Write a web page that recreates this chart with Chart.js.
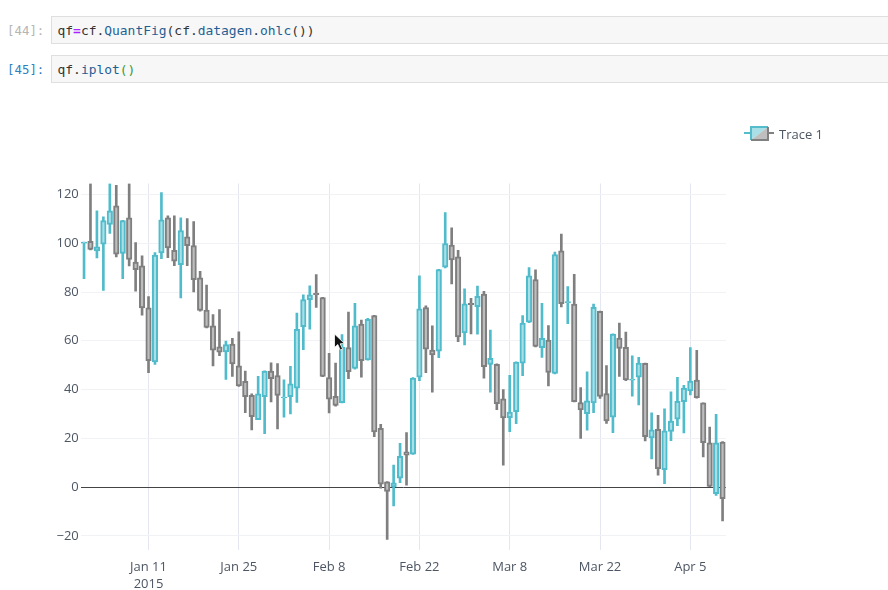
<!DOCTYPE html>
<html>
<head>
<meta charset="utf-8">
<script src="https://cdn.jsdelivr.net/npm/chart.js@4/dist/chart.umd.min.js"></script>
<style>
  html, body { margin: 0; width: 888px; height: 590px; overflow: hidden; background: #fff; }
  #page { position: relative; width: 888px; height: 590px; }
  #chart { position: absolute; left: 0; top: 0; }
  .prompt { position: absolute; left: 7px; font: 12.4px "DejaVu Sans Mono", monospace; line-height: 16px; }
  .cell { position: absolute; left: 51px; width: 837px; height: 28px; box-sizing: border-box; padding-left: 5.5px;
    background: #f7f7f7; border: 1px solid #dfdfdf; border-right: 0;
    font: 12.95px "DejaVu Sans Mono", monospace; line-height: 28px; color: #333; white-space: pre; }
  .fn { color: #1f5f94; }
  .op { color: #a2f; font-weight: bold; }
  .par { color: #3a9a3a; }
  #legend { position: absolute; left: 744px; top: 125px; }
  #legendText { position: absolute; left: 779px; top: 125px; font: 13px "Open Sans", sans-serif; line-height: 18px; color: #4d5663; }
  #cursor { position: absolute; left: 333px; top: 333px; }
</style>
</head>
<body>
<div id="page">
  <div class="prompt" style="top:23px;color:#b5b5b5">[44]:</div>
  <div class="cell" style="top:16px">qf<span class="op">=</span>cf.<span class="fn">QuantFig</span>(cf.<span class="fn">datagen</span>.<span class="fn">ohlc</span>())</div>
  <div class="prompt" style="top:62px;color:#307fc1">[45]:</div>
  <div class="cell" style="top:55px">qf.<span class="fn">iplot</span><span class="par">()</span></div>
  <canvas id="chart" width="888" height="590"></canvas>
  <svg id="legend" width="32" height="16">
    <line x1="0" y1="8" x2="7" y2="8" stroke="#55bccb" stroke-width="2"/>
    <line x1="24" y1="8" x2="30" y2="8" stroke="#808080" stroke-width="2"/>
    <polygon points="7,15 7,2 24,2" fill="#a9dfe7"/>
    <polygon points="7,15 24,15 24,2" fill="#bfbfbf"/>
    <polyline points="7,15 7,2 24,2" fill="none" stroke="#55bccb" stroke-width="2"/>
    <polyline points="7,15 24,15 24,2" fill="none" stroke="#808080" stroke-width="2"/>
  </svg>
  <div id="legendText">Trace 1</div>
  <svg id="cursor" width="14" height="20"><polygon points="1.5,1 1.5,14.5 4.8,11.5 7.2,17 9.6,16 7.2,10.8 11.5,10.5" fill="#111" stroke="#fff" stroke-width="0.8"/></svg>
</div>
<script>
const dates = [
  "Jan 1", "Jan 2", "Jan 3", "Jan 4", "Jan 5", "Jan 6", "Jan 7", "Jan 8", "Jan 9", "Jan 10",
  "Jan 11", "Jan 12", "Jan 13", "Jan 14", "Jan 15", "Jan 16", "Jan 17", "Jan 18", "Jan 19", "Jan 20",
  "Jan 21", "Jan 22", "Jan 23", "Jan 24", "Jan 25", "Jan 26", "Jan 27", "Jan 28", "Jan 29", "Jan 30",
  "Jan 31", "Feb 1", "Feb 2", "Feb 3", "Feb 4", "Feb 5", "Feb 6", "Feb 7", "Feb 8", "Feb 9",
  "Feb 10", "Feb 11", "Feb 12", "Feb 13", "Feb 14", "Feb 15", "Feb 16", "Feb 17", "Feb 18", "Feb 19",
  "Feb 20", "Feb 21", "Feb 22", "Feb 23", "Feb 24", "Feb 25", "Feb 26", "Feb 27", "Feb 28", "Mar 1",
  "Mar 2", "Mar 3", "Mar 4", "Mar 5", "Mar 6", "Mar 7", "Mar 8", "Mar 9", "Mar 10", "Mar 11",
  "Mar 12", "Mar 13", "Mar 14", "Mar 15", "Mar 16", "Mar 17", "Mar 18", "Mar 19", "Mar 20", "Mar 21",
  "Mar 22", "Mar 23", "Mar 24", "Mar 25", "Mar 26", "Mar 27", "Mar 28", "Mar 29", "Mar 30", "Mar 31",
  "Apr 1", "Apr 2", "Apr 3", "Apr 4", "Apr 5", "Apr 6", "Apr 7", "Apr 8", "Apr 9", "Apr 10",
];
const tickDates = ["Jan 11", "Jan 25", "Feb 8", "Feb 22", "Mar 8", "Mar 22", "Apr 5"];

const opens = [
  100, 100.8, 96.9, 99.6, 107.7, 115.3, 95.8, 110.4, 92.3, 90.7,
  73.5, 51.3, 96, 110.4, 97.1, 91.2, 102.6, 99, 85.8, 72.6,
  66.1, 57.5, 55.4, 58.6, 49.7, 43.4, 37.6, 27.6, 37.1, 47.6,
  45.7, 36.7, 37.1, 40.6, 65.8, 76.9, 79.5, 77.7, 44.9, 37.2,
  34.6, 57.2, 48.7, 66.8, 52.1, 70.3, 24.1, 2.2, 0.1, 3.7,
  14.5, 13.5, 45.1, 73.6, 56.2, 55.7, 90.2, 99.2, 94.4, 63.2,
  75.4, 74, 79.2, 50.3, 50.3, 36.2, 28.5, 30.9, 50.8, 67.6,
  85.1, 57.2, 60.3, 46.6, 96.9, 75.6, 75.1, 34.7, 30.1, 34.5,
  72.1, 38.3, 28.7, 61.1, 57.3, 43.8, 45.1, 50.8, 20.2, 23.7,
  7.1, 22.8, 27.8, 35, 39.4, 43.9, 34.5, 18.1, -2.7, 18.5,
];
const highs = [
  100.5, 124.5, 113.3, 110.8, 124.5, 123.8, 109.4, 124.5, 100.3, 94.8,
  78.1, 96.2, 120.8, 111.2, 111.2, 110.4, 110.1, 108.9, 88.5, 82.8,
  70.7, 72.8, 59.9, 61, 63.7, 47.6, 38.2, 45.4, 47.7, 51,
  50.6, 44, 49.5, 71.4, 78.8, 82.5, 87.1, 77.8, 54.9, 50.9,
  62.5, 71.8, 75.4, 68.5, 69.2, 70.4, 25.7, 2.3, 9, 17.9,
  22.3, 44.9, 86.6, 74.3, 66.1, 89.3, 112.6, 106.3, 97.1, 81.3,
  77.4, 82.4, 80.3, 64.4, 50.5, 40, 45.8, 51.4, 70.3, 90,
  89.1, 75.4, 66.2, 96.4, 103.8, 82.2, 87.3, 40.8, 47.3, 75.1,
  72.2, 49.8, 62.8, 67.3, 63.6, 53.8, 53.2, 50.9, 30.4, 29.4,
  32.1, 39.1, 45, 41.7, 57.2, 56.1, 34.6, 24.6, 29.8, 18.7,
];
const lows = [
  85.5, 97.3, 94, 80.7, 104, 94.4, 85.5, 90.7, 80.3, 70.5,
  46.9, 50.3, 93.7, 94.1, 90.8, 77.6, 90.8, 80, 72.1, 65.3,
  49.7, 53.9, 44.2, 45.4, 41.3, 30.5, 23.4, 27.6, 21.9, 34.9,
  23.9, 28.7, 30, 34.7, 56.4, 64.8, 73.7, 45.3, 30.4, 33.2,
  34.5, 44.5, 48.4, 45.1, 52, 20.7, -0.4, -21.5, -7.7, 1.8,
  0.8, 13.4, 43.6, 46.9, 38.9, 53.1, 89.9, 83.3, 59.6, 58.3,
  62.8, 62.7, 44.7, 38.9, 31.7, 9, 22.7, 26, 45.7, 67.4,
  57.5, 53.2, 41.5, 46.4, 73.9, 67, 34.9, 20, 23.3, 30.5,
  36.4, 26.1, 22.3, 45.4, 43.6, 37.3, 33.7, 18.9, 11.5, 4.9,
  1.4, 19, 25.2, 22.2, 37.8, 36.5, 12.4, 0.2, -3.4, -13.9,
];
const closes = [
  100.5, 97.5, 98.5, 109.3, 113.3, 95.5, 109.3, 93.4, 89.2, 73.5,
  51.8, 95.1, 109.6, 98.1, 92.6, 105.2, 99, 85.1, 72.4, 65.5,
  56.1, 55.3, 58.4, 50.5, 41.5, 37.1, 28.9, 38.2, 47.6, 44.5,
  37.6, 36.9, 42.3, 64.7, 76.9, 78.8, 78.9, 45.4, 36.1, 33.5,
  57.3, 47.3, 66.1, 51.8, 68.8, 22.6, 1.2, -1.8, 1.7, 12.6,
  13.1, 44.7, 73.1, 56.6, 54.2, 89.2, 99.9, 93.2, 61.6, 75.2,
  74.8, 78.2, 49.4, 52.8, 34.2, 28.4, 30.8, 51.3, 67.3, 86.6,
  57.7, 61, 47, 95.3, 75.2, 76.1, 35, 31.6, 35.4, 73.7,
  37.2, 27.1, 62.7, 56.9, 43.9, 44.3, 50.9, 20.7, 23.5, 7.5,
  23.1, 27.1, 35.2, 40.6, 43.5, 36.7, 18.2, 0.3, 18.1, -4.8,
];

const upLine = "#50bbcb", upFill = "#a9dfe7";
const downLine = "#7f7f7f", downFill = "#bdbdbd";
const isUp = (i) => closes[i] >= opens[i];
const lineColors = dates.map((d, i) => (isUp(i) ? upLine : downLine));
const fillColors = dates.map((d, i) => (isUp(i) ? upFill : downFill));

new Chart(document.getElementById("chart").getContext("2d"), {
  type: "bar",
  data: {
    labels: dates,
    datasets: [
      {
        // first dataset paints on top, so the box hides the wick behind it
        label: "Trace 1",
        data: opens.map((o, i) => [o, closes[i]]),
        backgroundColor: fillColors,
        borderColor: lineColors,
        borderWidth: 2,
        borderSkipped: false,
        barThickness: 5.5,
        grouped: false,
      },
      {
        label: "wick",
        data: lows.map((l, i) => [l, highs[i]]),
        backgroundColor: lineColors,
        barThickness: 2,
        grouped: false,
      },
    ],
  },
  options: {
    responsive: false,
    animation: false,
    layout: { padding: { left: 0, top: 183.5, right: 162.2, bottom: 0 } },
    plugins: { legend: { display: false }, tooltip: { enabled: false } },
    scales: {
      x: {
        offset: true,
        grid: { offset: false, color: "#e4e7ef", drawTicks: false },
        border: { display: false },
        afterBuildTicks: (axis) => {
          axis.ticks = axis.ticks.filter((t) => tickDates.includes(dates[t.value]));
        },
        afterFit: (axis) => { axis.height = 40.5; },
        ticks: {
          autoSkip: false,
          maxRotation: 0,
          padding: 9,
          color: "#4d5663",
          font: { family: "'Open Sans'", size: 13, lineHeight: 1.32 },
          callback: function (value) {
            const label = dates[value];
            return label === tickDates[0] ? [label, "2015"] : label;
          },
        },
      },
      y: {
        min: -25.6,
        max: 124.5,
        grid: {
          color: (c) => (c.tick.value === 0 ? "#444444" : "#f1f2f6"),
          drawTicks: false,
        },
        border: { display: false },
        afterFit: (axis) => { axis.width = 80.8; },
        ticks: {
          stepSize: 20,
          includeBounds: false,
          padding: 2,
          color: "#4d5663",
          font: { family: "'Open Sans'", size: 13 },
          callback: (value) => (value < 0 ? "\u2212" + Math.abs(value) : value),
        },
      },
    },
  },
});
</script>
</body>
</html>
